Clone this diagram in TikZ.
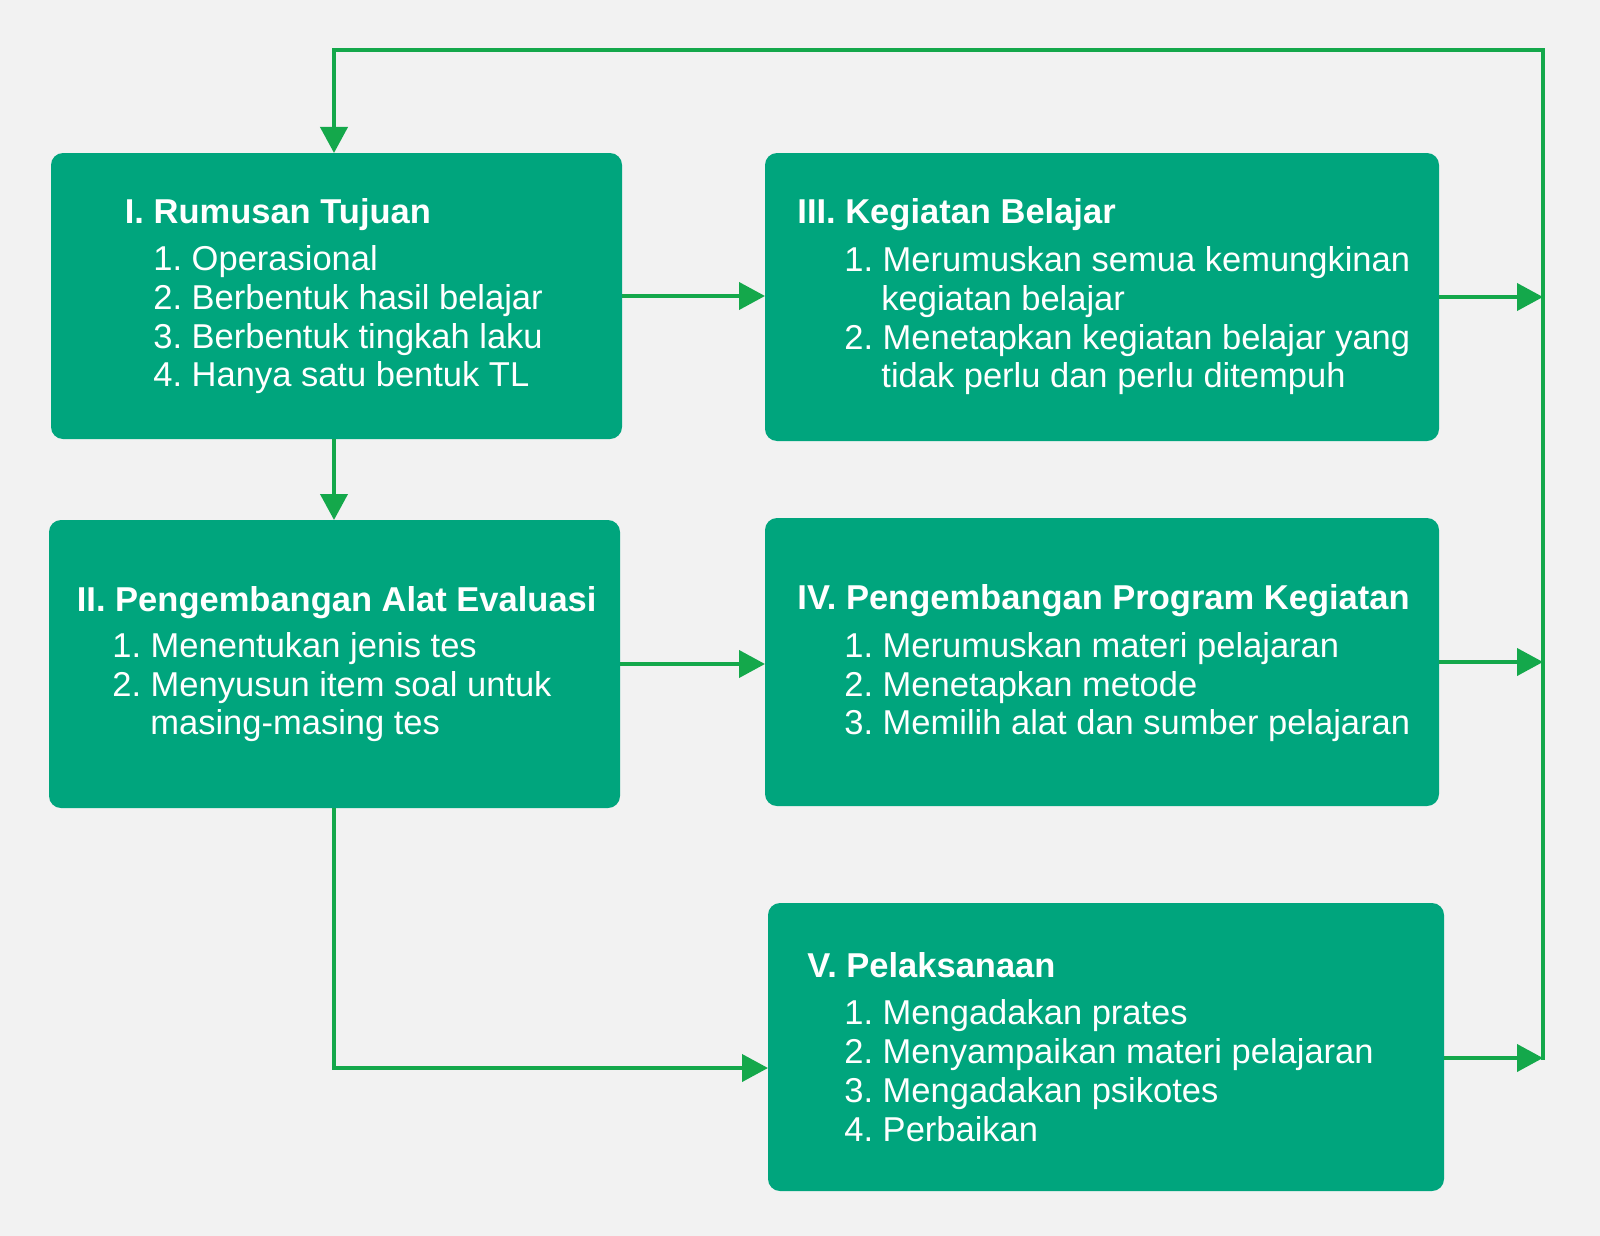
\documentclass[tikz,border=0pt]{standalone}
\usepackage{fontspec}
\setmainfont{Liberation Sans}
\usetikzlibrary{arrows.meta}
\frenchspacing
\definecolor{bggray}{RGB}{242,242,242}
\definecolor{boxgreen}{RGB}{0,165,125}
\definecolor{linegreen}{RGB}{20,168,75}
\tikzset{
  panel/.style={fill=boxgreen, draw=none, rounded corners=6pt, inner sep=0pt, outer sep=0pt},
  txt/.style={anchor=base west, text=white, inner sep=0pt, font=\fontsize{17.25}{19.4}\selectfont},
  ttl/.style={txt, font=\fontsize{17.25}{19.4}\selectfont\bfseries},
  conn/.style={draw=linegreen, line width=2pt},
  arr/.style={conn, -{Triangle[length=13pt,width=13.5pt]}}
}
\begin{document}
\begin{tikzpicture}[x=0.5pt,y=-0.5pt]
\useasboundingbox (0,0) rectangle (1600,1236);
\fill[bggray] (0,0) rectangle (1600,1236);

% boxes
\node[panel, minimum width=285.5pt, minimum height=143pt] (b1) at (336.5,296) {};
\node[panel, minimum width=337pt, minimum height=144pt] (b3) at (1102,297) {};
\node[panel, minimum width=285.5pt, minimum height=144pt] (b2) at (334.5,664) {};
\node[panel, minimum width=337pt, minimum height=144pt] (b4) at (1102,662) {};
\node[panel, minimum width=338pt, minimum height=144pt] (b5) at (1106,1047) {};

% helper coordinates
\coordinate (ltop) at (334,50);
\coordinate (rtop) at (1543,50);
\coordinate (rbot) at (1543,1058);
\coordinate (c5in) at (768,1068);
\coordinate (c5out) at (1444,1058);

% connectors
\draw[conn, line cap=rect] (rbot) -- (rtop);
\draw[arr, line join=miter] (rtop) -- (ltop) -- (b1.north -| ltop);
\draw[arr] (b1.south -| ltop) -- (b2.north -| ltop);
\draw[arr] (b1.east) -- (b1.east -| b3.west);
\draw[arr] (b2.east) -- (b2.east -| b4.west);
\draw[arr] (b3.east) -- (b3.east -| rtop);
\draw[arr] (b4.east) -- (b4.east -| rtop);
\draw[arr] (c5out) -- (rbot);
\draw[arr, line join=miter] (b2.south -| ltop) |- (c5in);

% box I text
\node[ttl] (t1) at (124.5,223) {I. Rumusan Tujuan};
\node[txt] (t1a) at (153,270) {1. Operasional};
\node[txt] (t1b) at (153,309) {2. Berbentuk hasil belajar};
\node[txt] (t1c) at (153,348) {3. Berbentuk tingkah laku};
\node[txt] (t1d) at (153,386.5) {4. Hanya satu bentuk TL};

% box III text
\node[ttl] (t3) at (797,223) {III. Kegiatan Belajar};
\node[txt] (t3a) at (844,271) {1. Merumuskan semua kemungkinan};
\node[txt] (t3b) at (881,310) {kegiatan belajar};
\node[txt] (t3c) at (844,349) {2. Menetapkan kegiatan belajar yang};
\node[txt] (t3d) at (881,387.5) {tidak perlu dan perlu ditempuh};

% box II text
\node[ttl] (t2) at (76.5,611) {II. Pengembangan Alat Evaluasi};
\node[txt] (t2a) at (112,657) {1. Menentukan jenis tes};
\node[txt] (t2b) at (112,696) {2. Menyusun item soal untuk};
\node[txt] (t2c) at (150,734) {masing-masing tes};

% box IV text
\node[ttl] (t4) at (797,609) {IV. Pengembangan Program Kegiatan};
\node[txt] (t4a) at (844,657) {1. Merumuskan materi pelajaran};
\node[txt] (t4b) at (844,696) {2. Menetapkan metode};
\node[txt] (t4c) at (844,734) {3. Memilih alat dan sumber pelajaran};

% box V text
\node[ttl] (t5) at (807,977) {V. Pelaksanaan};
\node[txt] (t5a) at (844,1024) {1. Mengadakan prates};
\node[txt] (t5b) at (844,1063) {2. Menyampaikan materi pelajaran};
\node[txt] (t5c) at (844,1102) {3. Mengadakan psikotes};
\node[txt] (t5d) at (844,1141) {4. Perbaikan};
\end{tikzpicture}
\end{document}
